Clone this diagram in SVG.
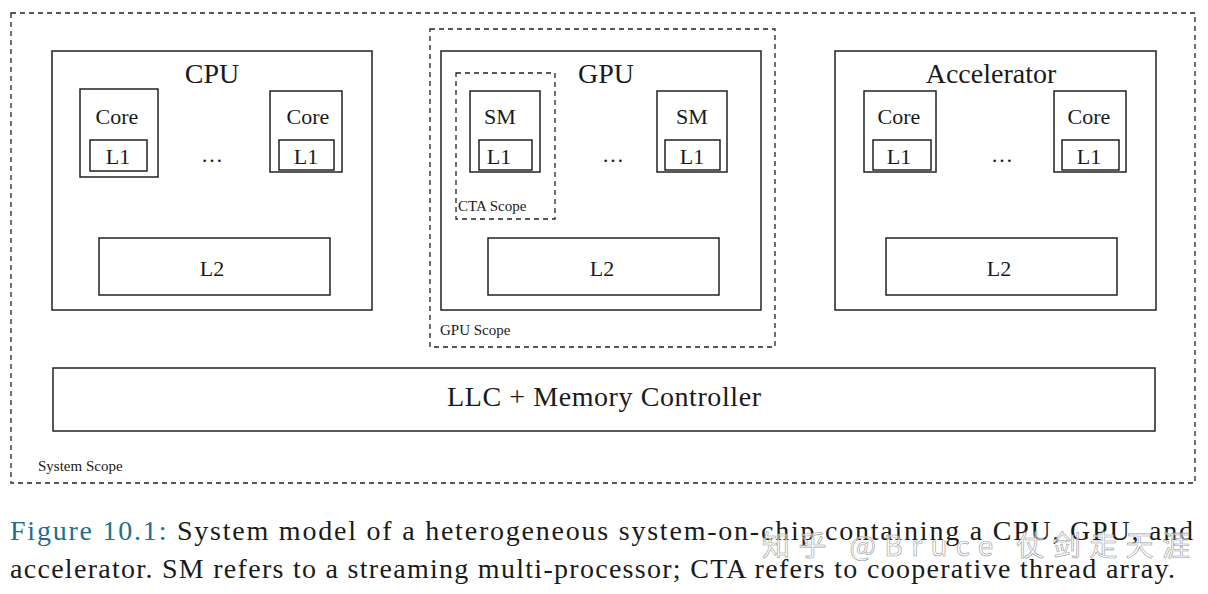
<svg xmlns="http://www.w3.org/2000/svg" width="1208" height="594" viewBox="0 0 1208 594">
<style>
.b{fill:none;stroke:#222;stroke-width:1.5}
.d{fill:none;stroke:#222;stroke-width:1.3;stroke-dasharray:5,4}
text{font-family:"Liberation Serif",serif;fill:#1a1a1a}
.t{font-size:28px;text-anchor:middle}
.m{font-size:22px;text-anchor:middle}
.s{font-size:15px}
.c{font-size:28px}
</style>
<rect width="1208" height="594" fill="#fff"/>
<g id="system"><rect class="d" x="11" y="13" width="1184" height="470"/><text class="s" x="38" y="471">System Scope</text></g>
<g id="cpu">
<rect class="b" x="52" y="51" width="320" height="259"/><text class="t" x="212" y="83">CPU</text>
<rect class="b" x="80" y="89" width="78" height="88"/><text class="m" x="117" y="124">Core</text><rect class="b" x="90" y="140" width="57" height="31"/><text class="m" x="118" y="164">L1</text>
<rect class="b" x="270" y="91" width="72" height="81"/><text class="m" x="308" y="124">Core</text><rect class="b" x="279" y="140" width="55" height="30"/><text class="m" x="306" y="164">L1</text>
<text class="m" x="212" y="162">…</text>
<rect class="b" x="99" y="238" width="231" height="57"/><text class="m" x="212" y="276">L2</text>
</g>
<g id="gpu">
<rect class="d" x="430" y="29" width="345" height="318"/><text class="s" x="440" y="335">GPU Scope</text>
<rect class="b" x="441" y="51" width="320" height="259"/><text class="t" x="606" y="83">GPU</text>
<rect class="d" x="456" y="73" width="99" height="146"/><text class="s" x="458" y="211">CTA Scope</text>
<rect class="b" x="470" y="91" width="70" height="81"/><text class="m" x="500" y="124">SM</text><rect class="b" x="479" y="140" width="53" height="30"/><text class="m" x="499" y="164">L1</text>
<rect class="b" x="657" y="91" width="70" height="81"/><text class="m" x="692" y="124">SM</text><rect class="b" x="665" y="140" width="55" height="30"/><text class="m" x="692" y="164">L1</text>
<text class="m" x="613" y="162">…</text>
<rect class="b" x="488" y="238" width="231" height="57"/><text class="m" x="602" y="276">L2</text>
</g>
<g id="accelerator">
<rect class="b" x="835" y="51" width="321" height="259"/><text class="t" x="991" y="83">Accelerator</text>
<rect class="b" x="864" y="91" width="72" height="81"/><text class="m" x="899" y="124">Core</text><rect class="b" x="873" y="140" width="58" height="30"/><text class="m" x="899" y="164">L1</text>
<rect class="b" x="1054" y="91" width="72" height="81"/><text class="m" x="1089" y="124">Core</text><rect class="b" x="1062" y="140" width="57" height="30"/><text class="m" x="1089" y="164">L1</text>
<text class="m" x="1002" y="162">…</text>
<rect class="b" x="886" y="238" width="231" height="57"/><text class="m" x="999" y="276">L2</text>
</g>
<g id="llc"><rect class="b" x="53" y="368" width="1102" height="63"/><text class="t" x="604" y="406" textLength="314">LLC + Memory Controller</text></g>
<g id="connectors"></g>
<text class="c" x="10" y="540" textLength="1183"><tspan fill="#1e6f8e">Figure 10.1:</tspan> System model of a heterogeneous system-on-chip containing a CPU, GPU, and</text>
<text class="c" x="10" y="578" textLength="1165">accelerator. SM refers to a streaming multi-processor; CTA refers to cooperative thread array.</text>
<text x="762" y="556" textLength="428" style="font-family:'Noto Sans CJK SC',sans-serif;font-size:28px;fill:#fff;fill-opacity:0.6;stroke:#999;stroke-width:0.6">知乎 @Bruce 仗剑走天涯</text>
</svg>
